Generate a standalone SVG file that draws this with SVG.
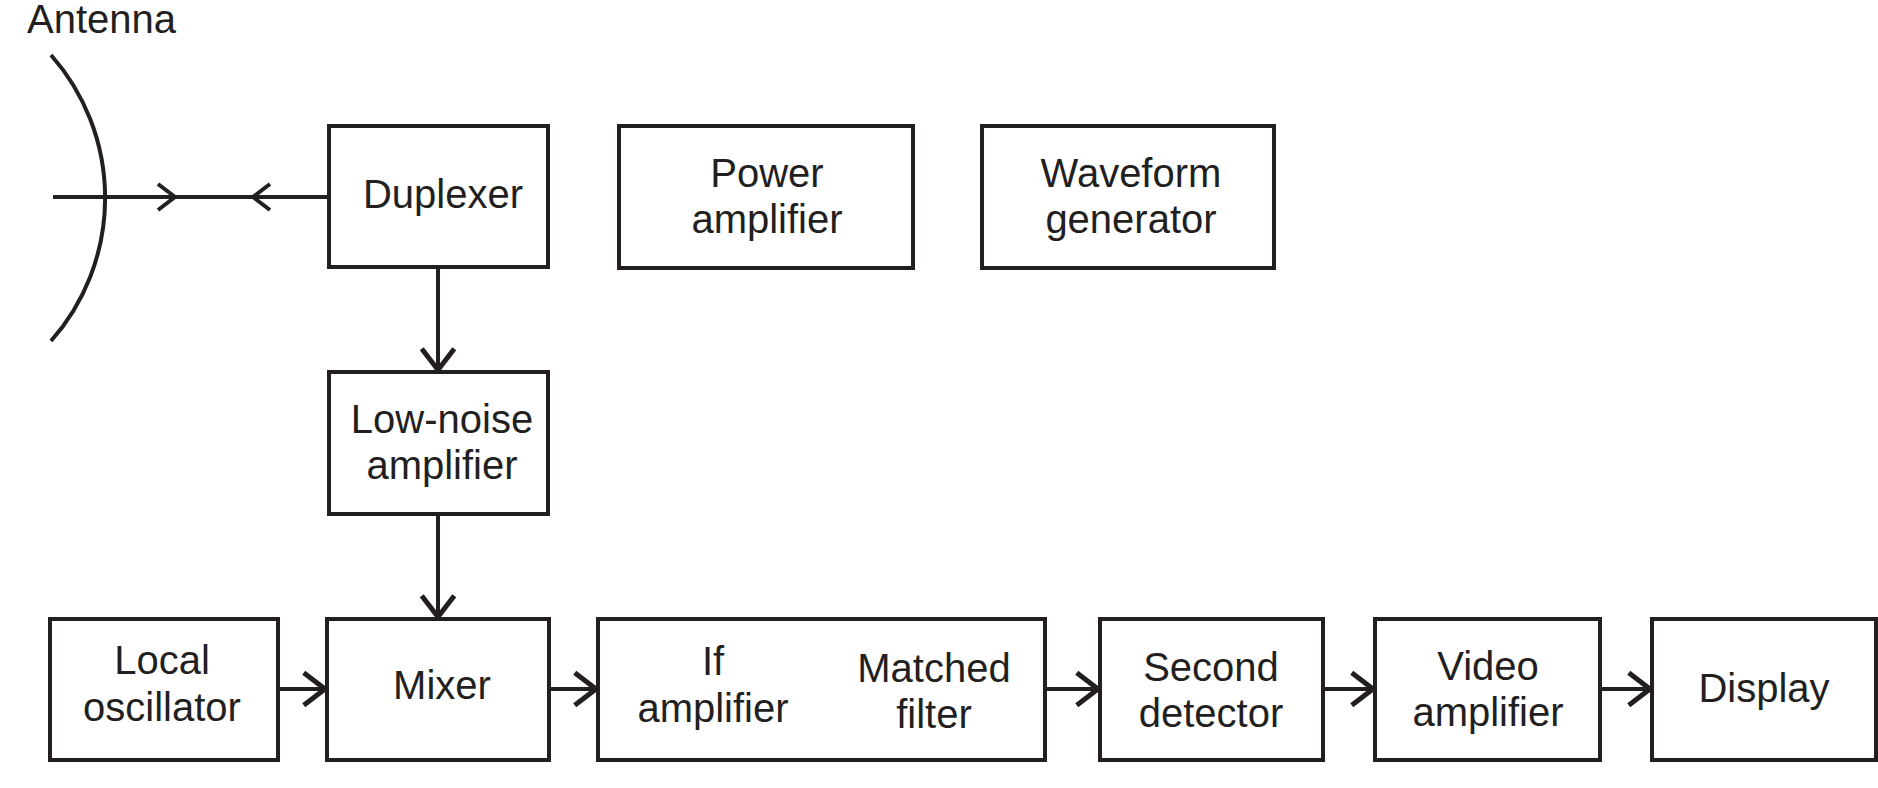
<svg xmlns="http://www.w3.org/2000/svg" width="1878" height="788" viewBox="0 0 1878 788">
<style>
.box{fill:#fff;stroke:#231f20;stroke-width:4}
.t{font-family:"Liberation Sans",Arial,sans-serif;font-size:40px;fill:#231f20;text-anchor:middle}
.c{fill:none;stroke:#231f20;stroke-width:4}
</style>
<defs>
<marker id="ah" markerUnits="userSpaceOnUse" markerWidth="40" markerHeight="40" viewBox="-22 -16 26 32" refX="0" refY="0" orient="auto">
<path d="M-17,-13 L0,0 L-17,13" fill="none" stroke="#231f20" stroke-width="4"/>
</marker>
</defs>
<rect width="1878" height="788" fill="#fff"/>
<g id="antenna">
<text class="t" x="27" y="33" style="text-anchor:start">Antenna</text>
<path class="c" d="M51,55 A216,216 0 0 1 51,341"/>
</g>
<g id="duplexer"><rect class="box" x="329" y="126" width="219" height="141"/><text class="t" x="443" y="208">Duplexer</text></g>
<g id="power-amplifier"><rect class="box" x="619" y="126" width="294" height="142"/><text class="t" x="767" y="187">Power</text><text class="t" x="767" y="233">amplifier</text></g>
<g id="waveform-generator"><rect class="box" x="982" y="126" width="292" height="142"/><text class="t" x="1131" y="187">Waveform</text><text class="t" x="1131" y="233">generator</text></g>
<g id="low-noise-amplifier"><rect class="box" x="329" y="372" width="219" height="142"/><text class="t" x="442" y="433">Low-noise</text><text class="t" x="442" y="479">amplifier</text></g>
<g id="local-oscillator"><rect class="box" x="50" y="619" width="228" height="141"/><text class="t" x="162" y="674">Local</text><text class="t" x="162" y="721">oscillator</text></g>
<g id="mixer"><rect class="box" x="327" y="619" width="222" height="141"/><text class="t" x="442" y="699">Mixer</text></g>
<g id="if-amplifier-matched-filter"><rect class="box" x="598" y="619" width="447" height="141"/><text class="t" x="713" y="675">If</text><text class="t" x="713" y="722">amplifier</text><text class="t" x="934" y="682">Matched</text><text class="t" x="934" y="728">filter</text></g>
<g id="second-detector"><rect class="box" x="1100" y="619" width="223" height="141"/><text class="t" x="1211" y="681">Second</text><text class="t" x="1211" y="727">detector</text></g>
<g id="video-amplifier"><rect class="box" x="1375" y="619" width="225" height="141"/><text class="t" x="1488" y="680">Video</text><text class="t" x="1488" y="726">amplifier</text></g>
<g id="display"><rect class="box" x="1652" y="619" width="224" height="141"/><text class="t" x="1764" y="702">Display</text></g>
<g id="connectors">
<line class="c" x1="53" y1="197" x2="327" y2="197"/>
<path class="c" d="M158,184 L175,197 L158,210"/>
<path class="c" d="M270,184 L253,197 L270,210"/>
<line class="c" x1="438" y1="267" x2="438" y2="370" marker-end="url(#ah)"/>
<line class="c" x1="438" y1="514" x2="438" y2="617" marker-end="url(#ah)"/>
<line class="c" x1="278" y1="689" x2="325" y2="689" marker-end="url(#ah)"/>
<line class="c" x1="549" y1="689" x2="596" y2="689" marker-end="url(#ah)"/>
<line class="c" x1="1045" y1="689" x2="1098" y2="689" marker-end="url(#ah)"/>
<line class="c" x1="1323" y1="689" x2="1373" y2="689" marker-end="url(#ah)"/>
<line class="c" x1="1600" y1="689" x2="1650" y2="689" marker-end="url(#ah)"/>
</g>
</svg>
